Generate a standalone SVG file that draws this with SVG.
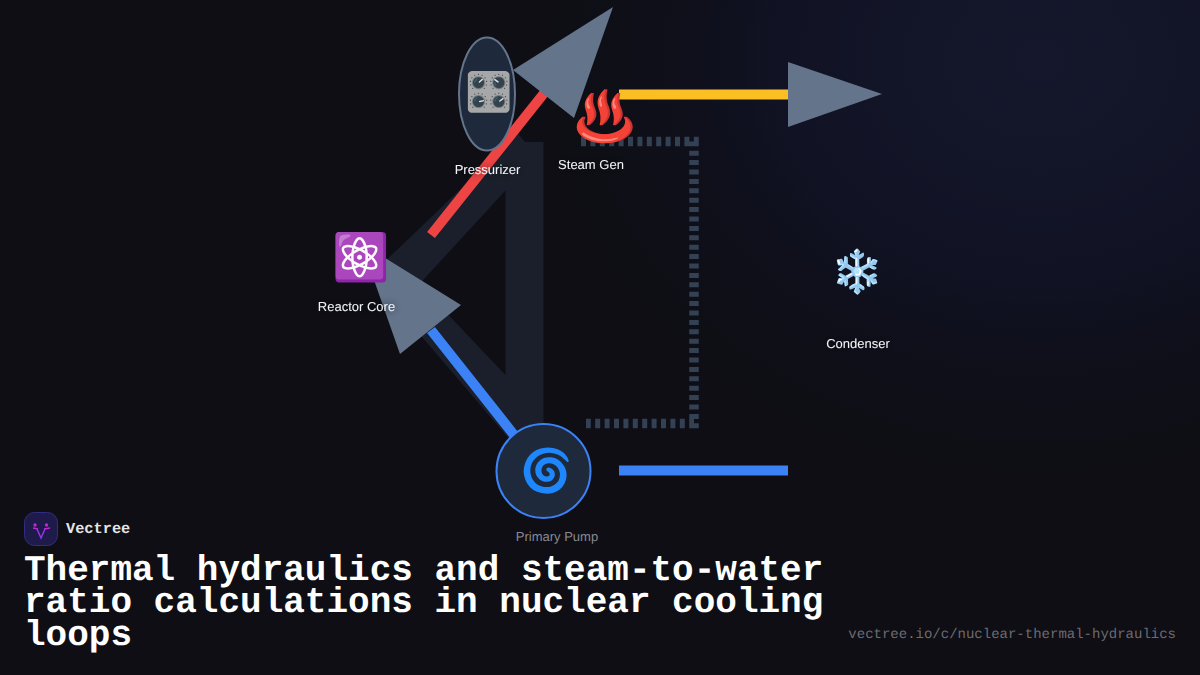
<svg xmlns="http://www.w3.org/2000/svg" width="1200" height="675" viewBox="0 0 1200 675" text-rendering="geometricPrecision">
<style>
.lbl{font-family:"Liberation Sans",Arial,sans-serif;font-size:13px;fill:#f1f5f9;text-anchor:middle}
.emo{font-family:"Noto Color Emoji","Noto Sans",sans-serif;text-anchor:middle}
.ttl{font-family:"Liberation Mono","Courier New",monospace;font-size:36px;font-weight:700;fill:#fff}
.head{fill:#64748b}
.band{fill:#1a1f2b}
.halo{filter:url(#halo)}
</style>
<defs>
<radialGradient id="glow" gradientUnits="userSpaceOnUse" cx="0" cy="0" r="1" gradientTransform="translate(1040 60) scale(560 470)">
<stop offset="0" stop-color="#15182c"/><stop offset="0.45" stop-color="#12142a" stop-opacity="0.75"/><stop offset="1" stop-color="#0d0d14" stop-opacity="0"/>
</radialGradient>
<filter id="halo" x="-30%" y="-60%" width="160%" height="220%">
<feDropShadow dx="0" dy="0" stdDeviation="4" flood-color="#0d0d14" flood-opacity="0.7"/>
</filter>
</defs>
<rect width="1200" height="675" fill="#0e0e14"/>
<rect width="1200" height="675" fill="url(#glow)"/>
<g id="connectors" fill="none">
<polygon class="band" points="378,268 518,134 530,147 530,190 506,190 425,278 415,290"/>
<polygon class="band" points="505.500,142 543.500,142 543.500,440 510,440 422,337 415,330 440,306 505.500,375"/>
<path d="M581 141.500H694V423.500H586" stroke="#334155" stroke-width="9.500" stroke-dasharray="5 4.400"/>
<path d="M431 235L545 92" stroke="#ef4444" stroke-width="10"/>
<path d="M431 330L518 440" stroke="#3b82f6" stroke-width="10"/>
<path d="M619 94.500H790" stroke="#fbbf24" stroke-width="10"/>
<path d="M619 470.500H788" stroke="#3b82f6" stroke-width="10"/>
<polygon class="head" points="613,7 513,70 574,118"/>
<polygon class="head" points="788,62 882,94 788,127"/>
<polygon class="head" points="361,243 461,305 400,354"/>
</g>
<g id="node-pressurizer">
<ellipse cx="487" cy="94" rx="28" ry="56.500" fill="#1e293b" stroke="#64748b" stroke-width="2"/>
<text class="emo" x="489" y="105" font-size="38" opacity="0.85">🎛️</text>
<text class="lbl halo" x="487.500" y="174">Pressurizer</text>
</g>
<g id="node-steam-gen">
<text class="emo" x="605" y="133" font-size="49">♨️</text>
<text class="lbl halo" x="591" y="169">Steam Gen</text>
</g>
<g id="node-reactor-core">
<text class="emo" x="361" y="273" font-size="46">⚛️</text>
<text class="lbl halo" x="356.500" y="311">Reactor Core</text>
</g>
<g id="node-condenser">
<text class="emo" x="857.500" y="286" font-size="42">❄️</text>
<text class="lbl halo" x="858" y="348">Condenser</text>
</g>
<g id="node-primary-pump">
<circle cx="543.500" cy="471" r="47" fill="#1e293b" stroke="#3b82f6" stroke-width="2"/>
<text class="emo" x="546.500" y="485" font-size="42">🌀</text>
<text class="lbl" x="557" y="541" style="fill:#8a8a92">Primary Pump</text>
</g>
<g id="brand">
<rect x="24.500" y="512.500" width="33" height="33" rx="10" fill="#1e1b4b" stroke="#312e81"/>
<path d="M37 529L41 538L45 529" fill="none" stroke="#9333ea" stroke-width="1.500"/>
<path d="M33 528L38 529M50 528L44 529" fill="none" stroke="#c026d3" stroke-width="1.500"/>
<circle cx="35" cy="525" r="1.700" fill="#c026d3"/><circle cx="46.500" cy="525" r="1.700" fill="#c026d3"/>
<text x="66" y="533" font-family="'Liberation Mono',monospace" font-size="15.300" font-weight="700" fill="#e5e5e5">Vectree</text>
</g>
<g id="title">
<text class="ttl" x="24" y="580">Thermal hydraulics and steam-to-water</text>
<text class="ttl" x="24" y="612">ratio calculations in nuclear cooling</text>
<text class="ttl" x="24" y="645">loops</text>
<text x="1176" y="638" text-anchor="end" font-family="'Liberation Mono',monospace" font-size="14" fill="#6b6b72">vectree.io/c/nuclear-thermal-hydraulics</text>
</g>
</svg>
